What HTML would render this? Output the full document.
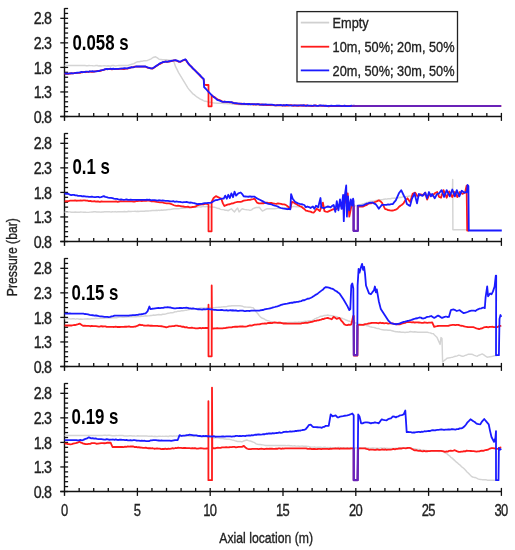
<!DOCTYPE html>
<html><head><meta charset="utf-8"><title>Pressure vs axial location</title>
<style>
html,body{margin:0;padding:0;background:#fff;}
body{width:515px;height:550px;overflow:hidden;}
svg{display:block;font-family:"Liberation Sans",sans-serif;}
</style></head><body>
<svg width="515" height="550" viewBox="0 0 515 550">
<rect width="515" height="550" fill="#fff"/>
<line x1="64.5" y1="8.2" x2="64.5" y2="120.9" stroke="#111" stroke-width="1.4"/>
<line x1="60.3" y1="116.5" x2="502" y2="116.5" stroke="#111" stroke-width="1.4"/>
<line x1="60.3" y1="116.5" x2="68.1" y2="116.5" stroke="#111" stroke-width="1.3"/>
<line x1="64.5" y1="111.59" x2="68.1" y2="111.59" stroke="#111" stroke-width="1.3"/>
<line x1="64.5" y1="106.68" x2="68.1" y2="106.68" stroke="#111" stroke-width="1.3"/>
<line x1="64.5" y1="101.77" x2="68.1" y2="101.77" stroke="#111" stroke-width="1.3"/>
<line x1="64.5" y1="96.86" x2="68.1" y2="96.86" stroke="#111" stroke-width="1.3"/>
<line x1="60.3" y1="91.95" x2="68.1" y2="91.95" stroke="#111" stroke-width="1.3"/>
<line x1="64.5" y1="87.05" x2="68.1" y2="87.05" stroke="#111" stroke-width="1.3"/>
<line x1="64.5" y1="82.14" x2="68.1" y2="82.14" stroke="#111" stroke-width="1.3"/>
<line x1="64.5" y1="77.23" x2="68.1" y2="77.23" stroke="#111" stroke-width="1.3"/>
<line x1="64.5" y1="72.32" x2="68.1" y2="72.32" stroke="#111" stroke-width="1.3"/>
<line x1="60.3" y1="67.41" x2="68.1" y2="67.41" stroke="#111" stroke-width="1.3"/>
<line x1="64.5" y1="62.5" x2="68.1" y2="62.5" stroke="#111" stroke-width="1.3"/>
<line x1="64.5" y1="57.59" x2="68.1" y2="57.59" stroke="#111" stroke-width="1.3"/>
<line x1="64.5" y1="52.68" x2="68.1" y2="52.68" stroke="#111" stroke-width="1.3"/>
<line x1="64.5" y1="47.77" x2="68.1" y2="47.77" stroke="#111" stroke-width="1.3"/>
<line x1="60.3" y1="42.86" x2="68.1" y2="42.86" stroke="#111" stroke-width="1.3"/>
<line x1="64.5" y1="37.95" x2="68.1" y2="37.95" stroke="#111" stroke-width="1.3"/>
<line x1="64.5" y1="33.05" x2="68.1" y2="33.05" stroke="#111" stroke-width="1.3"/>
<line x1="64.5" y1="28.14" x2="68.1" y2="28.14" stroke="#111" stroke-width="1.3"/>
<line x1="64.5" y1="23.23" x2="68.1" y2="23.23" stroke="#111" stroke-width="1.3"/>
<line x1="60.3" y1="18.32" x2="68.1" y2="18.32" stroke="#111" stroke-width="1.3"/>
<line x1="64.5" y1="13.41" x2="68.1" y2="13.41" stroke="#111" stroke-width="1.3"/>
<line x1="64.5" y1="8.5" x2="68.1" y2="8.5" stroke="#111" stroke-width="1.3"/>
<line x1="79.16" y1="112.9" x2="79.16" y2="116.5" stroke="#111" stroke-width="1.3"/>
<line x1="93.72" y1="112.9" x2="93.72" y2="116.5" stroke="#111" stroke-width="1.3"/>
<line x1="108.28" y1="112.9" x2="108.28" y2="116.5" stroke="#111" stroke-width="1.3"/>
<line x1="122.84" y1="112.9" x2="122.84" y2="116.5" stroke="#111" stroke-width="1.3"/>
<line x1="137.4" y1="112.9" x2="137.4" y2="120.9" stroke="#111" stroke-width="1.3"/>
<line x1="151.96" y1="112.9" x2="151.96" y2="116.5" stroke="#111" stroke-width="1.3"/>
<line x1="166.52" y1="112.9" x2="166.52" y2="116.5" stroke="#111" stroke-width="1.3"/>
<line x1="181.08" y1="112.9" x2="181.08" y2="116.5" stroke="#111" stroke-width="1.3"/>
<line x1="195.64" y1="112.9" x2="195.64" y2="116.5" stroke="#111" stroke-width="1.3"/>
<line x1="210.2" y1="112.9" x2="210.2" y2="120.9" stroke="#111" stroke-width="1.3"/>
<line x1="224.76" y1="112.9" x2="224.76" y2="116.5" stroke="#111" stroke-width="1.3"/>
<line x1="239.32" y1="112.9" x2="239.32" y2="116.5" stroke="#111" stroke-width="1.3"/>
<line x1="253.88" y1="112.9" x2="253.88" y2="116.5" stroke="#111" stroke-width="1.3"/>
<line x1="268.44" y1="112.9" x2="268.44" y2="116.5" stroke="#111" stroke-width="1.3"/>
<line x1="283" y1="112.9" x2="283" y2="120.9" stroke="#111" stroke-width="1.3"/>
<line x1="297.56" y1="112.9" x2="297.56" y2="116.5" stroke="#111" stroke-width="1.3"/>
<line x1="312.12" y1="112.9" x2="312.12" y2="116.5" stroke="#111" stroke-width="1.3"/>
<line x1="326.68" y1="112.9" x2="326.68" y2="116.5" stroke="#111" stroke-width="1.3"/>
<line x1="341.24" y1="112.9" x2="341.24" y2="116.5" stroke="#111" stroke-width="1.3"/>
<line x1="355.8" y1="112.9" x2="355.8" y2="120.9" stroke="#111" stroke-width="1.3"/>
<line x1="370.36" y1="112.9" x2="370.36" y2="116.5" stroke="#111" stroke-width="1.3"/>
<line x1="384.92" y1="112.9" x2="384.92" y2="116.5" stroke="#111" stroke-width="1.3"/>
<line x1="399.48" y1="112.9" x2="399.48" y2="116.5" stroke="#111" stroke-width="1.3"/>
<line x1="414.04" y1="112.9" x2="414.04" y2="116.5" stroke="#111" stroke-width="1.3"/>
<line x1="428.6" y1="112.9" x2="428.6" y2="120.9" stroke="#111" stroke-width="1.3"/>
<line x1="443.16" y1="112.9" x2="443.16" y2="116.5" stroke="#111" stroke-width="1.3"/>
<line x1="457.72" y1="112.9" x2="457.72" y2="116.5" stroke="#111" stroke-width="1.3"/>
<line x1="472.28" y1="112.9" x2="472.28" y2="116.5" stroke="#111" stroke-width="1.3"/>
<line x1="486.84" y1="112.9" x2="486.84" y2="116.5" stroke="#111" stroke-width="1.3"/>
<line x1="501.4" y1="112.9" x2="501.4" y2="120.9" stroke="#111" stroke-width="1.3"/>
<text transform="translate(51.2,122.6) scale(0.85,1)" font-size="16.8" text-anchor="end" font-weight="normal" fill="#222" letter-spacing="-0.9" stroke="#222" stroke-width="0.35">0.8</text>
<text transform="translate(51.2,98.05) scale(0.85,1)" font-size="16.8" text-anchor="end" font-weight="normal" fill="#222" letter-spacing="-0.9" stroke="#222" stroke-width="0.35">1.3</text>
<text transform="translate(51.2,73.51) scale(0.85,1)" font-size="16.8" text-anchor="end" font-weight="normal" fill="#222" letter-spacing="-0.9" stroke="#222" stroke-width="0.35">1.8</text>
<text transform="translate(51.2,48.96) scale(0.85,1)" font-size="16.8" text-anchor="end" font-weight="normal" fill="#222" letter-spacing="-0.9" stroke="#222" stroke-width="0.35">2.3</text>
<text transform="translate(51.2,24.42) scale(0.85,1)" font-size="16.8" text-anchor="end" font-weight="normal" fill="#222" letter-spacing="-0.9" stroke="#222" stroke-width="0.35">2.8</text>
<line x1="64.5" y1="133.2" x2="64.5" y2="245.9" stroke="#111" stroke-width="1.4"/>
<line x1="60.3" y1="241.5" x2="502" y2="241.5" stroke="#111" stroke-width="1.4"/>
<line x1="60.3" y1="241.5" x2="68.1" y2="241.5" stroke="#111" stroke-width="1.3"/>
<line x1="64.5" y1="236.59" x2="68.1" y2="236.59" stroke="#111" stroke-width="1.3"/>
<line x1="64.5" y1="231.68" x2="68.1" y2="231.68" stroke="#111" stroke-width="1.3"/>
<line x1="64.5" y1="226.77" x2="68.1" y2="226.77" stroke="#111" stroke-width="1.3"/>
<line x1="64.5" y1="221.86" x2="68.1" y2="221.86" stroke="#111" stroke-width="1.3"/>
<line x1="60.3" y1="216.95" x2="68.1" y2="216.95" stroke="#111" stroke-width="1.3"/>
<line x1="64.5" y1="212.05" x2="68.1" y2="212.05" stroke="#111" stroke-width="1.3"/>
<line x1="64.5" y1="207.14" x2="68.1" y2="207.14" stroke="#111" stroke-width="1.3"/>
<line x1="64.5" y1="202.23" x2="68.1" y2="202.23" stroke="#111" stroke-width="1.3"/>
<line x1="64.5" y1="197.32" x2="68.1" y2="197.32" stroke="#111" stroke-width="1.3"/>
<line x1="60.3" y1="192.41" x2="68.1" y2="192.41" stroke="#111" stroke-width="1.3"/>
<line x1="64.5" y1="187.5" x2="68.1" y2="187.5" stroke="#111" stroke-width="1.3"/>
<line x1="64.5" y1="182.59" x2="68.1" y2="182.59" stroke="#111" stroke-width="1.3"/>
<line x1="64.5" y1="177.68" x2="68.1" y2="177.68" stroke="#111" stroke-width="1.3"/>
<line x1="64.5" y1="172.77" x2="68.1" y2="172.77" stroke="#111" stroke-width="1.3"/>
<line x1="60.3" y1="167.86" x2="68.1" y2="167.86" stroke="#111" stroke-width="1.3"/>
<line x1="64.5" y1="162.95" x2="68.1" y2="162.95" stroke="#111" stroke-width="1.3"/>
<line x1="64.5" y1="158.05" x2="68.1" y2="158.05" stroke="#111" stroke-width="1.3"/>
<line x1="64.5" y1="153.14" x2="68.1" y2="153.14" stroke="#111" stroke-width="1.3"/>
<line x1="64.5" y1="148.23" x2="68.1" y2="148.23" stroke="#111" stroke-width="1.3"/>
<line x1="60.3" y1="143.32" x2="68.1" y2="143.32" stroke="#111" stroke-width="1.3"/>
<line x1="64.5" y1="138.41" x2="68.1" y2="138.41" stroke="#111" stroke-width="1.3"/>
<line x1="64.5" y1="133.5" x2="68.1" y2="133.5" stroke="#111" stroke-width="1.3"/>
<line x1="79.16" y1="237.9" x2="79.16" y2="241.5" stroke="#111" stroke-width="1.3"/>
<line x1="93.72" y1="237.9" x2="93.72" y2="241.5" stroke="#111" stroke-width="1.3"/>
<line x1="108.28" y1="237.9" x2="108.28" y2="241.5" stroke="#111" stroke-width="1.3"/>
<line x1="122.84" y1="237.9" x2="122.84" y2="241.5" stroke="#111" stroke-width="1.3"/>
<line x1="137.4" y1="237.9" x2="137.4" y2="245.9" stroke="#111" stroke-width="1.3"/>
<line x1="151.96" y1="237.9" x2="151.96" y2="241.5" stroke="#111" stroke-width="1.3"/>
<line x1="166.52" y1="237.9" x2="166.52" y2="241.5" stroke="#111" stroke-width="1.3"/>
<line x1="181.08" y1="237.9" x2="181.08" y2="241.5" stroke="#111" stroke-width="1.3"/>
<line x1="195.64" y1="237.9" x2="195.64" y2="241.5" stroke="#111" stroke-width="1.3"/>
<line x1="210.2" y1="237.9" x2="210.2" y2="245.9" stroke="#111" stroke-width="1.3"/>
<line x1="224.76" y1="237.9" x2="224.76" y2="241.5" stroke="#111" stroke-width="1.3"/>
<line x1="239.32" y1="237.9" x2="239.32" y2="241.5" stroke="#111" stroke-width="1.3"/>
<line x1="253.88" y1="237.9" x2="253.88" y2="241.5" stroke="#111" stroke-width="1.3"/>
<line x1="268.44" y1="237.9" x2="268.44" y2="241.5" stroke="#111" stroke-width="1.3"/>
<line x1="283" y1="237.9" x2="283" y2="245.9" stroke="#111" stroke-width="1.3"/>
<line x1="297.56" y1="237.9" x2="297.56" y2="241.5" stroke="#111" stroke-width="1.3"/>
<line x1="312.12" y1="237.9" x2="312.12" y2="241.5" stroke="#111" stroke-width="1.3"/>
<line x1="326.68" y1="237.9" x2="326.68" y2="241.5" stroke="#111" stroke-width="1.3"/>
<line x1="341.24" y1="237.9" x2="341.24" y2="241.5" stroke="#111" stroke-width="1.3"/>
<line x1="355.8" y1="237.9" x2="355.8" y2="245.9" stroke="#111" stroke-width="1.3"/>
<line x1="370.36" y1="237.9" x2="370.36" y2="241.5" stroke="#111" stroke-width="1.3"/>
<line x1="384.92" y1="237.9" x2="384.92" y2="241.5" stroke="#111" stroke-width="1.3"/>
<line x1="399.48" y1="237.9" x2="399.48" y2="241.5" stroke="#111" stroke-width="1.3"/>
<line x1="414.04" y1="237.9" x2="414.04" y2="241.5" stroke="#111" stroke-width="1.3"/>
<line x1="428.6" y1="237.9" x2="428.6" y2="245.9" stroke="#111" stroke-width="1.3"/>
<line x1="443.16" y1="237.9" x2="443.16" y2="241.5" stroke="#111" stroke-width="1.3"/>
<line x1="457.72" y1="237.9" x2="457.72" y2="241.5" stroke="#111" stroke-width="1.3"/>
<line x1="472.28" y1="237.9" x2="472.28" y2="241.5" stroke="#111" stroke-width="1.3"/>
<line x1="486.84" y1="237.9" x2="486.84" y2="241.5" stroke="#111" stroke-width="1.3"/>
<line x1="501.4" y1="237.9" x2="501.4" y2="245.9" stroke="#111" stroke-width="1.3"/>
<text transform="translate(51.2,247.6) scale(0.85,1)" font-size="16.8" text-anchor="end" font-weight="normal" fill="#222" letter-spacing="-0.9" stroke="#222" stroke-width="0.35">0.8</text>
<text transform="translate(51.2,223.05) scale(0.85,1)" font-size="16.8" text-anchor="end" font-weight="normal" fill="#222" letter-spacing="-0.9" stroke="#222" stroke-width="0.35">1.3</text>
<text transform="translate(51.2,198.51) scale(0.85,1)" font-size="16.8" text-anchor="end" font-weight="normal" fill="#222" letter-spacing="-0.9" stroke="#222" stroke-width="0.35">1.8</text>
<text transform="translate(51.2,173.96) scale(0.85,1)" font-size="16.8" text-anchor="end" font-weight="normal" fill="#222" letter-spacing="-0.9" stroke="#222" stroke-width="0.35">2.3</text>
<text transform="translate(51.2,149.42) scale(0.85,1)" font-size="16.8" text-anchor="end" font-weight="normal" fill="#222" letter-spacing="-0.9" stroke="#222" stroke-width="0.35">2.8</text>
<line x1="64.5" y1="258.2" x2="64.5" y2="370.9" stroke="#111" stroke-width="1.4"/>
<line x1="60.3" y1="366.5" x2="502" y2="366.5" stroke="#111" stroke-width="1.4"/>
<line x1="60.3" y1="366.5" x2="68.1" y2="366.5" stroke="#111" stroke-width="1.3"/>
<line x1="64.5" y1="361.59" x2="68.1" y2="361.59" stroke="#111" stroke-width="1.3"/>
<line x1="64.5" y1="356.68" x2="68.1" y2="356.68" stroke="#111" stroke-width="1.3"/>
<line x1="64.5" y1="351.77" x2="68.1" y2="351.77" stroke="#111" stroke-width="1.3"/>
<line x1="64.5" y1="346.86" x2="68.1" y2="346.86" stroke="#111" stroke-width="1.3"/>
<line x1="60.3" y1="341.95" x2="68.1" y2="341.95" stroke="#111" stroke-width="1.3"/>
<line x1="64.5" y1="337.05" x2="68.1" y2="337.05" stroke="#111" stroke-width="1.3"/>
<line x1="64.5" y1="332.14" x2="68.1" y2="332.14" stroke="#111" stroke-width="1.3"/>
<line x1="64.5" y1="327.23" x2="68.1" y2="327.23" stroke="#111" stroke-width="1.3"/>
<line x1="64.5" y1="322.32" x2="68.1" y2="322.32" stroke="#111" stroke-width="1.3"/>
<line x1="60.3" y1="317.41" x2="68.1" y2="317.41" stroke="#111" stroke-width="1.3"/>
<line x1="64.5" y1="312.5" x2="68.1" y2="312.5" stroke="#111" stroke-width="1.3"/>
<line x1="64.5" y1="307.59" x2="68.1" y2="307.59" stroke="#111" stroke-width="1.3"/>
<line x1="64.5" y1="302.68" x2="68.1" y2="302.68" stroke="#111" stroke-width="1.3"/>
<line x1="64.5" y1="297.77" x2="68.1" y2="297.77" stroke="#111" stroke-width="1.3"/>
<line x1="60.3" y1="292.86" x2="68.1" y2="292.86" stroke="#111" stroke-width="1.3"/>
<line x1="64.5" y1="287.95" x2="68.1" y2="287.95" stroke="#111" stroke-width="1.3"/>
<line x1="64.5" y1="283.05" x2="68.1" y2="283.05" stroke="#111" stroke-width="1.3"/>
<line x1="64.5" y1="278.14" x2="68.1" y2="278.14" stroke="#111" stroke-width="1.3"/>
<line x1="64.5" y1="273.23" x2="68.1" y2="273.23" stroke="#111" stroke-width="1.3"/>
<line x1="60.3" y1="268.32" x2="68.1" y2="268.32" stroke="#111" stroke-width="1.3"/>
<line x1="64.5" y1="263.41" x2="68.1" y2="263.41" stroke="#111" stroke-width="1.3"/>
<line x1="64.5" y1="258.5" x2="68.1" y2="258.5" stroke="#111" stroke-width="1.3"/>
<line x1="79.16" y1="362.9" x2="79.16" y2="366.5" stroke="#111" stroke-width="1.3"/>
<line x1="93.72" y1="362.9" x2="93.72" y2="366.5" stroke="#111" stroke-width="1.3"/>
<line x1="108.28" y1="362.9" x2="108.28" y2="366.5" stroke="#111" stroke-width="1.3"/>
<line x1="122.84" y1="362.9" x2="122.84" y2="366.5" stroke="#111" stroke-width="1.3"/>
<line x1="137.4" y1="362.9" x2="137.4" y2="370.9" stroke="#111" stroke-width="1.3"/>
<line x1="151.96" y1="362.9" x2="151.96" y2="366.5" stroke="#111" stroke-width="1.3"/>
<line x1="166.52" y1="362.9" x2="166.52" y2="366.5" stroke="#111" stroke-width="1.3"/>
<line x1="181.08" y1="362.9" x2="181.08" y2="366.5" stroke="#111" stroke-width="1.3"/>
<line x1="195.64" y1="362.9" x2="195.64" y2="366.5" stroke="#111" stroke-width="1.3"/>
<line x1="210.2" y1="362.9" x2="210.2" y2="370.9" stroke="#111" stroke-width="1.3"/>
<line x1="224.76" y1="362.9" x2="224.76" y2="366.5" stroke="#111" stroke-width="1.3"/>
<line x1="239.32" y1="362.9" x2="239.32" y2="366.5" stroke="#111" stroke-width="1.3"/>
<line x1="253.88" y1="362.9" x2="253.88" y2="366.5" stroke="#111" stroke-width="1.3"/>
<line x1="268.44" y1="362.9" x2="268.44" y2="366.5" stroke="#111" stroke-width="1.3"/>
<line x1="283" y1="362.9" x2="283" y2="370.9" stroke="#111" stroke-width="1.3"/>
<line x1="297.56" y1="362.9" x2="297.56" y2="366.5" stroke="#111" stroke-width="1.3"/>
<line x1="312.12" y1="362.9" x2="312.12" y2="366.5" stroke="#111" stroke-width="1.3"/>
<line x1="326.68" y1="362.9" x2="326.68" y2="366.5" stroke="#111" stroke-width="1.3"/>
<line x1="341.24" y1="362.9" x2="341.24" y2="366.5" stroke="#111" stroke-width="1.3"/>
<line x1="355.8" y1="362.9" x2="355.8" y2="370.9" stroke="#111" stroke-width="1.3"/>
<line x1="370.36" y1="362.9" x2="370.36" y2="366.5" stroke="#111" stroke-width="1.3"/>
<line x1="384.92" y1="362.9" x2="384.92" y2="366.5" stroke="#111" stroke-width="1.3"/>
<line x1="399.48" y1="362.9" x2="399.48" y2="366.5" stroke="#111" stroke-width="1.3"/>
<line x1="414.04" y1="362.9" x2="414.04" y2="366.5" stroke="#111" stroke-width="1.3"/>
<line x1="428.6" y1="362.9" x2="428.6" y2="370.9" stroke="#111" stroke-width="1.3"/>
<line x1="443.16" y1="362.9" x2="443.16" y2="366.5" stroke="#111" stroke-width="1.3"/>
<line x1="457.72" y1="362.9" x2="457.72" y2="366.5" stroke="#111" stroke-width="1.3"/>
<line x1="472.28" y1="362.9" x2="472.28" y2="366.5" stroke="#111" stroke-width="1.3"/>
<line x1="486.84" y1="362.9" x2="486.84" y2="366.5" stroke="#111" stroke-width="1.3"/>
<line x1="501.4" y1="362.9" x2="501.4" y2="370.9" stroke="#111" stroke-width="1.3"/>
<text transform="translate(51.2,372.6) scale(0.85,1)" font-size="16.8" text-anchor="end" font-weight="normal" fill="#222" letter-spacing="-0.9" stroke="#222" stroke-width="0.35">0.8</text>
<text transform="translate(51.2,348.05) scale(0.85,1)" font-size="16.8" text-anchor="end" font-weight="normal" fill="#222" letter-spacing="-0.9" stroke="#222" stroke-width="0.35">1.3</text>
<text transform="translate(51.2,323.51) scale(0.85,1)" font-size="16.8" text-anchor="end" font-weight="normal" fill="#222" letter-spacing="-0.9" stroke="#222" stroke-width="0.35">1.8</text>
<text transform="translate(51.2,298.96) scale(0.85,1)" font-size="16.8" text-anchor="end" font-weight="normal" fill="#222" letter-spacing="-0.9" stroke="#222" stroke-width="0.35">2.3</text>
<text transform="translate(51.2,274.42) scale(0.85,1)" font-size="16.8" text-anchor="end" font-weight="normal" fill="#222" letter-spacing="-0.9" stroke="#222" stroke-width="0.35">2.8</text>
<line x1="64.5" y1="383.2" x2="64.5" y2="495.9" stroke="#111" stroke-width="1.4"/>
<line x1="60.3" y1="491.5" x2="502" y2="491.5" stroke="#111" stroke-width="1.4"/>
<line x1="60.3" y1="491.5" x2="68.1" y2="491.5" stroke="#111" stroke-width="1.3"/>
<line x1="64.5" y1="486.59" x2="68.1" y2="486.59" stroke="#111" stroke-width="1.3"/>
<line x1="64.5" y1="481.68" x2="68.1" y2="481.68" stroke="#111" stroke-width="1.3"/>
<line x1="64.5" y1="476.77" x2="68.1" y2="476.77" stroke="#111" stroke-width="1.3"/>
<line x1="64.5" y1="471.86" x2="68.1" y2="471.86" stroke="#111" stroke-width="1.3"/>
<line x1="60.3" y1="466.95" x2="68.1" y2="466.95" stroke="#111" stroke-width="1.3"/>
<line x1="64.5" y1="462.05" x2="68.1" y2="462.05" stroke="#111" stroke-width="1.3"/>
<line x1="64.5" y1="457.14" x2="68.1" y2="457.14" stroke="#111" stroke-width="1.3"/>
<line x1="64.5" y1="452.23" x2="68.1" y2="452.23" stroke="#111" stroke-width="1.3"/>
<line x1="64.5" y1="447.32" x2="68.1" y2="447.32" stroke="#111" stroke-width="1.3"/>
<line x1="60.3" y1="442.41" x2="68.1" y2="442.41" stroke="#111" stroke-width="1.3"/>
<line x1="64.5" y1="437.5" x2="68.1" y2="437.5" stroke="#111" stroke-width="1.3"/>
<line x1="64.5" y1="432.59" x2="68.1" y2="432.59" stroke="#111" stroke-width="1.3"/>
<line x1="64.5" y1="427.68" x2="68.1" y2="427.68" stroke="#111" stroke-width="1.3"/>
<line x1="64.5" y1="422.77" x2="68.1" y2="422.77" stroke="#111" stroke-width="1.3"/>
<line x1="60.3" y1="417.86" x2="68.1" y2="417.86" stroke="#111" stroke-width="1.3"/>
<line x1="64.5" y1="412.95" x2="68.1" y2="412.95" stroke="#111" stroke-width="1.3"/>
<line x1="64.5" y1="408.05" x2="68.1" y2="408.05" stroke="#111" stroke-width="1.3"/>
<line x1="64.5" y1="403.14" x2="68.1" y2="403.14" stroke="#111" stroke-width="1.3"/>
<line x1="64.5" y1="398.23" x2="68.1" y2="398.23" stroke="#111" stroke-width="1.3"/>
<line x1="60.3" y1="393.32" x2="68.1" y2="393.32" stroke="#111" stroke-width="1.3"/>
<line x1="64.5" y1="388.41" x2="68.1" y2="388.41" stroke="#111" stroke-width="1.3"/>
<line x1="64.5" y1="383.5" x2="68.1" y2="383.5" stroke="#111" stroke-width="1.3"/>
<line x1="79.16" y1="487.9" x2="79.16" y2="491.5" stroke="#111" stroke-width="1.3"/>
<line x1="93.72" y1="487.9" x2="93.72" y2="491.5" stroke="#111" stroke-width="1.3"/>
<line x1="108.28" y1="487.9" x2="108.28" y2="491.5" stroke="#111" stroke-width="1.3"/>
<line x1="122.84" y1="487.9" x2="122.84" y2="491.5" stroke="#111" stroke-width="1.3"/>
<line x1="137.4" y1="487.9" x2="137.4" y2="495.9" stroke="#111" stroke-width="1.3"/>
<line x1="151.96" y1="487.9" x2="151.96" y2="491.5" stroke="#111" stroke-width="1.3"/>
<line x1="166.52" y1="487.9" x2="166.52" y2="491.5" stroke="#111" stroke-width="1.3"/>
<line x1="181.08" y1="487.9" x2="181.08" y2="491.5" stroke="#111" stroke-width="1.3"/>
<line x1="195.64" y1="487.9" x2="195.64" y2="491.5" stroke="#111" stroke-width="1.3"/>
<line x1="210.2" y1="487.9" x2="210.2" y2="495.9" stroke="#111" stroke-width="1.3"/>
<line x1="224.76" y1="487.9" x2="224.76" y2="491.5" stroke="#111" stroke-width="1.3"/>
<line x1="239.32" y1="487.9" x2="239.32" y2="491.5" stroke="#111" stroke-width="1.3"/>
<line x1="253.88" y1="487.9" x2="253.88" y2="491.5" stroke="#111" stroke-width="1.3"/>
<line x1="268.44" y1="487.9" x2="268.44" y2="491.5" stroke="#111" stroke-width="1.3"/>
<line x1="283" y1="487.9" x2="283" y2="495.9" stroke="#111" stroke-width="1.3"/>
<line x1="297.56" y1="487.9" x2="297.56" y2="491.5" stroke="#111" stroke-width="1.3"/>
<line x1="312.12" y1="487.9" x2="312.12" y2="491.5" stroke="#111" stroke-width="1.3"/>
<line x1="326.68" y1="487.9" x2="326.68" y2="491.5" stroke="#111" stroke-width="1.3"/>
<line x1="341.24" y1="487.9" x2="341.24" y2="491.5" stroke="#111" stroke-width="1.3"/>
<line x1="355.8" y1="487.9" x2="355.8" y2="495.9" stroke="#111" stroke-width="1.3"/>
<line x1="370.36" y1="487.9" x2="370.36" y2="491.5" stroke="#111" stroke-width="1.3"/>
<line x1="384.92" y1="487.9" x2="384.92" y2="491.5" stroke="#111" stroke-width="1.3"/>
<line x1="399.48" y1="487.9" x2="399.48" y2="491.5" stroke="#111" stroke-width="1.3"/>
<line x1="414.04" y1="487.9" x2="414.04" y2="491.5" stroke="#111" stroke-width="1.3"/>
<line x1="428.6" y1="487.9" x2="428.6" y2="495.9" stroke="#111" stroke-width="1.3"/>
<line x1="443.16" y1="487.9" x2="443.16" y2="491.5" stroke="#111" stroke-width="1.3"/>
<line x1="457.72" y1="487.9" x2="457.72" y2="491.5" stroke="#111" stroke-width="1.3"/>
<line x1="472.28" y1="487.9" x2="472.28" y2="491.5" stroke="#111" stroke-width="1.3"/>
<line x1="486.84" y1="487.9" x2="486.84" y2="491.5" stroke="#111" stroke-width="1.3"/>
<line x1="501.4" y1="487.9" x2="501.4" y2="495.9" stroke="#111" stroke-width="1.3"/>
<text transform="translate(51.2,497.6) scale(0.85,1)" font-size="16.8" text-anchor="end" font-weight="normal" fill="#222" letter-spacing="-0.9" stroke="#222" stroke-width="0.35">0.8</text>
<text transform="translate(51.2,473.05) scale(0.85,1)" font-size="16.8" text-anchor="end" font-weight="normal" fill="#222" letter-spacing="-0.9" stroke="#222" stroke-width="0.35">1.3</text>
<text transform="translate(51.2,448.51) scale(0.85,1)" font-size="16.8" text-anchor="end" font-weight="normal" fill="#222" letter-spacing="-0.9" stroke="#222" stroke-width="0.35">1.8</text>
<text transform="translate(51.2,423.96) scale(0.85,1)" font-size="16.8" text-anchor="end" font-weight="normal" fill="#222" letter-spacing="-0.9" stroke="#222" stroke-width="0.35">2.3</text>
<text transform="translate(51.2,399.42) scale(0.85,1)" font-size="16.8" text-anchor="end" font-weight="normal" fill="#222" letter-spacing="-0.9" stroke="#222" stroke-width="0.35">2.8</text>
<text transform="translate(64.2,515.8) scale(0.79,1)" font-size="16.4" text-anchor="middle" font-weight="normal" fill="#222" letter-spacing="-0.9" stroke="#222" stroke-width="0.35">0</text>
<text transform="translate(137,515.8) scale(0.79,1)" font-size="16.4" text-anchor="middle" font-weight="normal" fill="#222" letter-spacing="-0.9" stroke="#222" stroke-width="0.35">5</text>
<text transform="translate(209.8,515.8) scale(0.79,1)" font-size="16.4" text-anchor="middle" font-weight="normal" fill="#222" letter-spacing="-0.9" stroke="#222" stroke-width="0.35">10</text>
<text transform="translate(282.6,515.8) scale(0.79,1)" font-size="16.4" text-anchor="middle" font-weight="normal" fill="#222" letter-spacing="-0.9" stroke="#222" stroke-width="0.35">15</text>
<text transform="translate(355.4,515.8) scale(0.79,1)" font-size="16.4" text-anchor="middle" font-weight="normal" fill="#222" letter-spacing="-0.9" stroke="#222" stroke-width="0.35">20</text>
<text transform="translate(428.2,515.8) scale(0.79,1)" font-size="16.4" text-anchor="middle" font-weight="normal" fill="#222" letter-spacing="-0.9" stroke="#222" stroke-width="0.35">25</text>
<text transform="translate(501,515.8) scale(0.79,1)" font-size="16.4" text-anchor="middle" font-weight="normal" fill="#222" letter-spacing="-0.9" stroke="#222" stroke-width="0.35">30</text>
<text transform="translate(219.3,543) scale(0.815,1)" font-size="15.0" text-anchor="start" font-weight="normal" fill="#222" stroke="#222" stroke-width="0.35">Axial location (m)</text>
<text transform="translate(16.9,296.2) rotate(-90) scale(0.815,1)" font-size="15.0" text-anchor="start" font-weight="normal" fill="#222" stroke="#222" stroke-width="0.35">Pressure (bar)</text>
<polyline points="64.6,65.5 83.4,65.5 84.79,65.35 86.17,65.73 87.56,65.72 88.94,65.49 90.33,65.64 91.71,65.65 93.1,65.78 94.49,65.87 95.87,65.55 97.26,65.55 98.64,65.98 100.03,65.81 101.41,66 102.8,65.9 104.13,65.63 105.45,65.83 106.78,65.95 108.11,65.68 109.43,66.02 110.76,65.97 112.08,65.52 113.41,65.49 114.74,65.73 116.06,65.91 117.39,65.61 118.72,65.51 120.04,65.59 121.37,65.37 122.69,65.45 124.02,65.53 125.35,65.54 126.67,65.39 128,65.5 129.47,64.89 130.95,64.41 132.43,64.05 133.9,63.6 135.2,62.86 136.5,62.09 137.8,61.7 139.36,61.67 140.92,61.33 142.48,61.17 144.04,60.74 145.6,60.7 147.5,60.45 149.4,59.7 151.2,58.78 153,57.5 155.6,56.8 157.35,57.86 159.1,59.3 160.85,59.47 162.6,59.8 164.4,59.81 166.2,59.6 167.62,59.93 169.05,60.27 170.47,60.24 171.9,60.5 174,62 175.5,66.4 178.6,72.6 183.3,80.4 188,88.1 189.53,90.1 191.07,91.85 192.6,93.6 194.15,94.65 195.7,95.94 197.25,97.24 198.8,98.2 200.35,99.15 201.9,99.75 203.45,100.57 205,101.3 206.3,101.33 207.6,101.7 208.9,102.25 210.2,102.32 211.5,102.47 212.8,102.9 214.13,103 215.46,103.14 216.79,103.2 218.11,103.12 219.44,103.23 220.77,103.33 222.1,103.4 223.48,103.62 224.85,103.58 226.23,103.6 227.61,103.73 228.98,103.59 230.36,103.68 231.74,104.09 233.12,104.32 234.49,104.21 235.87,104.19 237.25,104.17 238.62,104.42 240,104.5 241.33,104.78 242.67,104.71 244,104.63 245.33,104.83 246.67,104.55 248,104.73 249.33,104.98 250.67,104.83 252,104.81 253.33,104.75 254.67,104.93 256,105.17 257.33,104.73 258.67,105.16 260,105.21 261.33,105.28 262.67,105.24 264,105.31 265.33,105.21 266.67,105.26 268,105.23 269.33,105.08 270.67,105.53 272,105.41 273.33,105.27 274.67,105.46 276,105.48 277.33,105.46 278.67,105.49 280,105.6 281.32,105.63 282.63,105.68 283.95,105.69 285.26,105.62 286.58,105.42 287.89,105.53 289.21,105.51 290.53,105.73 291.84,105.88 293.16,105.85 294.47,105.86 295.79,105.88 297.11,105.61 298.42,105.92 299.74,105.84 301.05,105.56 302.37,105.54 303.68,105.55 305,105.93 306.32,105.69 307.63,105.63 308.95,105.89 310.26,105.76 311.58,105.64 312.89,105.69 314.21,105.89 315.53,105.72 316.84,105.78 318.16,106.01 319.47,105.89 320.79,105.84 322.11,105.92 323.42,105.71 324.74,105.9 326.05,105.93 327.37,105.82 328.68,105.79 330,106 501.2,106" fill="none" stroke="#d4d4d4" stroke-width="1.45" stroke-linejoin="round" stroke-linecap="butt"/>
<polyline points="64.6,73.9 65.99,73.77 67.38,73.74 68.76,73.85 70.15,73.48 71.54,73.4 72.92,73.35 74.31,73.01 75.7,73.1 77.15,72.96 78.6,72.88 80.05,72.83 81.5,72.26 82.95,72.23 84.4,71.95 85.85,72.24 87.3,71.9 88.6,71.94 89.9,71.47 91.2,71.96 92.5,71.87 93.8,71.6 95.1,71.5 96.4,71.15 97.7,70.99 99,71.2 100.54,70.82 102.08,70.14 103.62,69.81 105.16,69.45 106.7,69.2 108,68.9 109.3,69.13 110.6,69.1 111.9,69.32 113.2,69.1 114.5,69.15 115.8,69.04 117.1,69.12 118.4,69 119.94,68.89 121.48,68.71 123.02,69.06 124.56,68.98 126.1,68.6 127.49,68.53 128.87,68.18 130.26,67.67 131.64,67.35 133.03,67.12 134.41,66.71 135.8,66.7 145.6,66.7 147.5,67.56 149.4,68.1 150.85,68.29 152.3,68.6 153.8,67.86 155.3,66.7 157.2,65.38 159.1,64.2 160.4,63.81 161.7,63.08 163,62.2 164.32,61.73 165.63,61.69 166.95,61.95 168.27,61.52 169.58,61.65 170.9,61.2 172.43,60.87 173.97,60.41 175.5,60.4 177.07,60.98 178.63,61.57 180.2,61.9 181.55,61.19 182.9,60.5 184.25,60.07 185.6,59.6 186.9,61.68 188.2,63.35 189.5,65 191.05,66.37 192.6,68.2 194.17,69.58 195.73,71.03 197.3,72.8 198.83,74.1 200.37,76.11 201.9,77.5 203.7,79.5 204.3,84.5 205.8,85 208.5,85 208.5,106.3 211.6,106.3 211.6,95.2 212.8,96.3 214.37,97.07 215.93,98.27 217.5,99.2 219.03,99.94 220.57,100.55 222.1,101.5 223.4,101.77 224.7,101.55 226,101.99 227.3,101.8 228.6,102.12 229.9,102.3 231.44,102.39 232.98,102.68 234.52,103.36 236.06,103.52 237.6,103.6 238.91,103.55 240.22,103.96 241.53,103.63 242.84,103.8 244.16,104.15 245.47,104.09 246.78,103.83 248.09,104.43 249.4,104.2 250.72,104.08 252.05,104.15 253.37,104.51 254.69,104.3 256.01,104.33 257.34,104.24 258.66,104.3 259.98,104.65 261.3,104.5 262.63,104.76 263.95,104.67 265.27,104.77 266.6,105.13 267.92,104.89 269.24,104.99 270.56,105.22 271.89,104.86 273.21,104.89 274.53,105.4 275.85,105.39 277.18,105.1 278.5,105.3 279.82,105.13 281.14,105.48 282.46,105.62 283.78,105.19 285.1,105.66 286.42,105.64 287.74,105.49 289.06,105.4 290.38,105.22 291.71,105.2 293.03,105.78 294.35,105.36 295.67,105.66 296.99,105.41 298.31,105.76 299.63,105.65 300.95,105.48 302.27,105.43 303.59,105.77 304.91,105.4 306.23,105.51 307.55,105.73 308.87,105.92 310.19,105.8 311.51,105.62 312.83,106.02 314.15,105.61 315.47,105.51 316.79,105.68 318.12,105.81 319.44,105.59 320.76,105.68 322.08,105.81 323.4,105.95 324.72,105.71 326.04,105.86 327.36,106.2 328.68,106.27 330,106 501.2,106" fill="none" stroke="#ff1a1a" stroke-width="1.8" stroke-linejoin="round" stroke-linecap="butt"/>
<polyline points="64.6,73.7 65.99,73.4 67.38,73.61 68.76,73.48 70.15,73.29 71.54,73.03 72.92,73.28 74.31,73.18 75.7,72.9 77.15,72.76 78.6,72.6 80.05,72.29 81.5,72 82.95,72.07 84.4,72.05 85.85,71.59 87.3,71.7 88.6,71.8 89.9,71.38 91.2,71.31 92.5,71.11 93.8,71.61 95.1,71.38 96.4,71.38 97.7,71.15 99,71 100.54,70.32 102.08,70.1 103.62,69.8 105.16,69.17 106.7,69 108,69.25 109.3,68.88 110.6,68.73 111.9,69.1 113.2,68.66 114.5,69.12 115.8,68.82 117.1,68.85 118.4,68.8 119.94,68.63 121.48,68.63 123.02,68.37 124.56,68.2 126.1,68.4 127.49,68.35 128.87,67.7 130.26,67.75 131.64,67.14 133.03,67.32 134.41,67.01 135.8,66.5 145.6,66.5 147.5,67.35 149.4,67.9 150.85,68.31 152.3,68.4 153.8,67.5 155.3,66.5 157.2,65.39 159.1,64 160.4,63.11 161.7,62.65 163,62 164.32,62.03 165.63,61.49 166.95,61.75 168.27,61.57 169.58,61.11 170.9,61 172.43,60.65 173.97,60.44 175.5,60.2 177.07,60.63 178.63,61.5 180.2,61.7 181.55,61.06 182.9,60.27 184.25,59.73 185.6,59.4 186.9,61.33 188.2,63.3 189.5,64.8 191.05,66.4 192.6,68 194.17,69.53 195.73,71.1 197.3,72.6 198.83,74.32 200.37,75.57 201.9,77.3 203.7,79 204.1,87.1 206,89 208.5,91.8 209.83,93.23 211.17,94.57 212.5,95.9 214.07,97.31 215.63,98.38 217.2,99.9 218.77,100.27 220.33,100.94 221.9,101.6 223.23,101.94 224.57,101.67 225.9,101.91 227.23,101.82 228.57,101.78 229.9,102.1 231.44,102.1 232.98,102.81 234.52,103.05 236.06,103.06 237.6,103.4 238.91,103.58 240.22,103.64 241.53,103.84 242.84,103.94 244.16,103.68 245.47,104.09 246.78,104.14 248.09,103.99 249.4,104 250.72,104.28 252.05,104.09 253.37,104.08 254.69,104.05 256.01,104.48 257.34,104.1 258.66,104.09 259.98,104.58 261.3,104.61 262.63,104.49 263.95,104.75 265.27,104.33 266.6,104.5 267.92,104.57 269.24,104.7 270.56,104.6 271.89,104.59 273.21,104.8 274.53,105.19 275.85,105.29 277.18,105.2 278.5,105.1 279.82,105.11 281.14,104.99 282.46,105.44 283.78,105.2 285.1,105.34 286.42,104.94 287.74,105.07 289.06,105.47 290.38,105.46 291.71,105.53 293.03,105.39 294.35,105.3 295.67,105.42 296.99,105.6 298.31,105.29 299.63,105.45 300.95,105.31 302.27,105.63 303.59,105.2 304.91,105.62 306.23,105.8 307.55,105.27 308.87,105.63 310.19,105.68 311.51,105.82 312.83,105.68 314.15,105.51 315.47,105.62 316.79,105.97 318.12,105.96 319.44,105.52 320.76,105.51 322.08,105.53 323.4,105.51 324.72,105.79 326.04,105.62 327.36,106.08 328.68,105.97 330,105.9 331.33,105.68 332.67,105.93 334,105.81 335.33,105.91 336.67,105.75 338,105.72 339.33,105.74 340.67,105.86 342,106.06 343.33,105.97 344.67,105.67 346,106.08 347.33,106.18 348.67,106.12 350,106.14 351.33,105.67 352.67,105.95 354,105.71 355.33,106.14 356.67,105.79 358,106.11 359.33,105.84 360.67,106.11 362,106" fill="none" stroke="#1a1aff" stroke-width="1.8" stroke-linejoin="round" stroke-linecap="butt"/>
<polyline points="64.6,212 65.94,212.24 67.29,212.25 68.63,211.82 69.97,211.85 71.31,212.24 72.66,212.2 74,212.18 75.34,212.02 76.69,212.18 78.03,212.2 79.37,212.2 80.71,212 82.06,212.15 83.4,212.2 84.72,212.13 86.05,212.28 87.37,212.39 88.69,212.35 90.01,212.13 91.34,212.06 92.66,211.96 93.98,211.82 95.3,211.8 96.63,212 97.95,211.91 99.27,211.92 100.6,212.16 101.92,211.96 103.24,211.96 104.56,211.78 105.89,211.65 107.21,211.79 108.53,211.67 109.85,211.84 111.18,212.07 112.5,211.8 113.83,211.86 115.15,211.59 116.48,211.91 117.81,211.84 119.14,211.78 120.46,211.84 121.79,211.74 123.12,211.73 124.45,211.48 125.77,211.77 127.1,211.73 128.43,211.3 129.75,211.57 131.08,211.53 132.41,211.37 133.74,211.38 135.06,211.33 136.39,211.52 137.72,211.28 139.05,211.42 140.37,211.15 141.7,211.2 143.01,211.32 144.32,211.26 145.64,210.97 146.95,210.95 148.26,211.06 149.57,210.89 150.88,210.7 152.19,210.5 153.51,210.48 154.82,210.59 156.13,210.26 157.44,210.56 158.75,210.17 160.06,210.42 161.38,210.05 162.69,210.3 164,210 165.44,209.95 166.88,209.7 168.31,209.56 169.75,209.48 171.19,209.29 172.62,209.01 174.06,208.8 175.5,208.8 176.92,208.67 178.34,208.74 179.75,208.45 181.17,208.04 182.59,208.28 184.01,208.09 185.43,208.05 186.85,207.55 188.26,207.7 189.68,207.22 191.1,207.3 192.51,207.3 193.92,207.04 195.33,206.95 196.74,207.2 198.15,206.74 199.55,206.87 200.96,206.97 202.37,206.59 203.78,206.5 205.19,206.76 206.6,206.5 208.14,206.62 209.68,206.93 211.22,206.75 212.76,207.07 214.3,207.3 215.86,207.6 217.42,208.31 218.98,208.47 220.54,209.37 222.1,209.6 223.65,209.64 225.2,210.26 226.75,210.19 228.3,210.7 229.85,209.63 231.4,208.8 232.95,210.51 234.5,211.9 236.05,209.78 237.6,208 239.1,211.9 240.65,210.19 242.2,208.8 243.75,209.3 245.3,209.6 246.87,209.81 248.43,209.9 250,210.4 251.53,209.85 253.07,208.63 254.6,208 256.17,207.53 257.73,207.46 259.3,207.3 260.85,209.26 262.4,211.1 263.97,210.45 265.53,209.37 267.1,208.8 274.8,208.8 276.1,208.59 277.4,208.3 278.7,208.37 280,208.4 281.3,208.25 282.6,208 284.15,208.03 285.7,207.78 287.25,207.66 288.8,207.3 290.35,207.2 291.9,206.89 293.45,206.56 295,206.5 296.55,206.78 298.1,206.81 299.65,206.9 301.2,207.3 302.54,207.25 303.89,207.44 305.23,207.05 306.57,207.26 307.91,207.14 309.26,207.18 310.6,206.97 311.94,207.36 313.29,206.99 314.63,207.14 315.97,207.02 317.31,206.8 318.66,207.05 320,207 321.33,206.75 322.67,206.65 324,206.57 325.33,206.56 326.67,206.46 328,206.67 329.33,206.54 330.67,206.71 332,206.62 333.33,206.58 334.67,206.13 336,206.17 337.33,206.01 338.67,206.11 340,206 341.37,206.04 342.74,206.1 344.11,206.04 345.48,205.79 346.85,205.85 348.22,205.87 349.58,205.59 350.95,205.58 352.32,205.75 353.69,205.57 355.06,205.86 356.43,205.59 357.8,205.7 359.12,205.04 360.44,204.62 361.76,204.19 363.08,203.72 364.4,203.41 365.72,202.92 367.04,202.38 368.36,202.09 369.68,201.42 371,201.1 372.31,201.13 373.62,200.98 374.94,200.69 376.25,200.37 377.56,200.23 378.88,200.09 380.19,199.65 381.5,199.66 382.81,199.54 384.12,199.19 385.44,198.97 386.75,199.15 388.06,198.76 389.38,198.66 390.69,198.69 392,198.3 393.32,198.28 394.65,198.04 395.98,198.32 397.3,198 398.63,197.71 399.96,197.3 401.29,197.41 402.61,196.89 403.94,196.76 405.27,196.8 406.6,196.4 407.98,196.4 409.35,195.99 410.73,196.13 412.11,196.03 413.48,195.98 414.86,195.76 416.24,195.87 417.61,195.53 418.99,195.55 420.36,195.51 421.74,195.71 423.12,195.2 424.49,195.46 425.87,195.09 427.25,195.2 428.62,195.03 430,195 431.32,194.92 432.64,195.01 433.95,194.77 435.27,194.58 436.59,194.52 437.91,194.44 439.22,194.76 440.54,194.6 441.86,194.7 443.18,194.51 444.49,194.12 445.81,194.37 447.13,194.37 448.45,194.29 449.76,194.12 451.08,193.99 452.4,194 452.7,179.5 452.9,229.8 467.9,229.8" fill="none" stroke="#d4d4d4" stroke-width="1.45" stroke-linejoin="round" stroke-linecap="butt"/>
<polyline points="64.6,201.4 65.9,201.27 67.2,201.27 68.5,201.16 69.8,200.73 71.1,200.54 72.4,200.64 73.7,200.6 75.09,200.44 76.47,200.73 77.86,200.63 79.24,200.55 80.63,200.49 82.01,200.53 83.4,200.4 84.79,200.33 86.17,200.65 87.56,200.63 88.94,201.22 90.33,200.85 91.71,201.45 93.1,201.4 94.49,201.19 95.87,201.6 97.26,201.43 98.64,201.51 100.03,201.82 101.41,201.37 102.8,201.7 114.5,201.7 116.06,201.38 117.62,201.83 119.18,201.53 120.74,201.21 122.3,201.4 132,201.4 133.39,201.64 134.77,201.55 136.16,201 137.54,201.13 138.93,200.9 140.31,200.94 141.7,201 143.15,200.97 144.6,200.6 146.05,200.82 147.5,200.6 148.8,200.51 150.1,200.77 151.4,201.34 152.7,201.27 154,201.47 155.3,201.7 156.87,201.96 158.43,202.09 160,202.3 161.33,202.39 162.66,202.33 163.99,202.91 165.31,203.21 166.64,203.37 167.97,203.34 169.3,203.4 170.85,203.89 172.4,204.47 173.95,205.24 175.5,205.7 176.8,205.94 178.1,205.73 179.4,205.94 180.7,206.15 182,206.37 183.3,206.5 184.86,206.85 186.42,206.82 187.98,206.7 189.54,207.33 191.1,207.3 192.63,206.99 194.17,206.78 195.7,206.5 197.25,205.53 198.8,204.9 200.35,204.61 201.9,204.33 203.45,204.31 205,203.9 206.75,203.96 208.5,204.5 208.5,231.3 211.6,231.3 211.6,201.8 213.6,198 215.9,196.1 217.45,196.88 219,197.6 221.3,198.7 222.9,203.4 224.4,206 226.8,204.9 228.35,204.33 229.9,204.27 231.45,203.5 233,203.4 234.53,202.73 236.07,202.24 237.6,201.8 240.7,201.8 242.23,201.38 243.77,200.53 245.3,200.3 246.87,200.11 248.43,199.79 250,199.8 251.53,199.3 253.07,199.05 254.6,198.7 257,202.6 258.9,203.28 260.8,203.4 262.38,203.19 263.95,203.27 265.53,202.6 267.1,202.6 268.65,203.05 270.2,202.92 271.75,203.01 273.3,203.4 274.84,203.65 276.38,203.85 277.92,203.4 279.46,203.66 281,203.9 282.57,204.4 284.13,204.47 285.7,204.9 287.23,206.04 288.77,207.21 290.3,208.8 291.9,201.8 293.45,202.32 295,203.4 296.55,204.25 298.1,205.24 299.65,206.02 301.2,206.5 302.77,207.9 304.33,209.01 305.9,210.7 307.43,210.89 308.97,211.47 310.5,211.6 312.05,212.35 313.6,212.7 315.15,210.83 316.7,208.8 318.25,209.79 319.8,211.1 322.9,202.6 324.4,211.1 325.95,211.52 327.5,211.9 329.07,211.12 330.63,210.44 332.2,209.6 333.73,209.19 335.27,209.33 336.8,208.8 338.4,206.74 340,204.2 341.55,206.3 343.1,208.8 347.7,193.3 349.3,216.6 352.4,201.1 353.6,205 353.6,230.8 357.8,230.8 357.8,206.5 363.2,206.5 364.77,205.6 366.35,205.17 367.93,204.04 369.5,203.4 371.03,203.3 372.57,202.68 374.1,202.3 375.67,201.75 377.23,201.09 378.8,200.3 380.35,201.28 381.9,202.6 385,208.8 386.55,209.32 388.1,210.1 389.6,210.25 391.1,210.7 392.65,210.51 394.2,210.1 395.75,209.57 397.3,208.8 398.85,207.03 400.4,205.7 401.95,204.78 403.5,203.4 405,200.8 407.5,198.3 408.8,200.15 410.1,202.1 412.6,193.9 415.1,192.6 417.6,196.4 420.2,194.5 421.75,194.69 423.3,195.2 425.2,192.6 427.1,199.6 429.6,193.9 432.1,195.8 434.7,193.3 437.2,192 439.1,197 441,197.7 443.5,190.1 446.7,197.7 449.2,191.4 452.3,197 454.9,192 457.4,197 459.9,192 462.4,193.9 463.7,193.21 465,192.6 466.6,185.7 467.2,230.5 469,230.5" fill="none" stroke="#ff1a1a" stroke-width="1.8" stroke-linejoin="round" stroke-linecap="butt"/>
<polyline points="64.6,193.2 65.9,193.82 67.2,193.68 68.5,193.96 69.8,194.6 71.19,195.08 72.57,194.78 73.96,194.93 75.34,195.43 76.73,195.44 78.11,195.95 79.5,195.9 80.86,195.84 82.22,196.38 83.58,196.09 84.94,196.36 86.3,196.66 87.66,196.61 89.02,196.85 90.38,196.82 91.74,196.53 93.1,196.9 94.4,197.16 95.7,197.02 97,196.89 98.3,196.85 99.6,197.28 100.9,197.1 102.35,196.65 103.8,196.1 105.25,196.86 106.7,197.1 108.15,197.51 109.6,197.88 111.05,197.89 112.5,198.1 113.97,198.54 115.45,198.82 116.93,198.93 118.4,199.4 119.76,199.71 121.12,199.37 122.48,199.69 123.84,199.83 125.2,199.69 126.56,199.43 127.92,199.88 129.28,199.82 130.64,199.57 132,199.8 145.6,199.8 146.91,199.59 148.23,199.93 149.54,199.69 150.86,200.28 152.17,200.09 153.49,200.15 154.8,200.15 156.11,200.35 157.43,200.56 158.74,200.26 160.06,200.35 161.37,200.54 162.69,200.42 164,200.6 165.32,200.78 166.65,200.88 167.98,200.94 169.3,201.1 170.63,201.3 171.96,201.32 173.29,201.15 174.61,201.8 175.94,201.51 177.27,201.66 178.6,201.8 179.94,201.81 181.29,202.2 182.63,202.29 183.97,202.09 185.31,202.1 186.66,201.99 188,202.3 189.55,202.74 191.1,202.5 192.65,202.93 194.2,203.1 195.75,203.56 197.3,204.2 198.83,204 200.37,203.91 201.9,203.9 203.47,203.45 205.03,203.09 206.6,203.1 208.13,202.95 209.67,202.94 211.2,202.6 212.75,201.74 214.3,200.7 215.87,200.12 217.43,200.02 219,199.5 220.55,198.83 222.1,198.7 223.7,198.7 225.2,195.6 226.8,198.7 228.3,194.8 229.9,198 231.4,193.3 233,197.2 234.5,191.7 236.1,195.6 238.3,193.3 240.7,192.5 242.2,194.1 243.8,196.4 245.35,196.5 246.9,196.7 248.45,196.75 250,196.4 251.53,196.75 253.07,196.58 254.6,196.7 256.15,197.91 257.7,198.7 259.27,199.5 260.83,200.31 262.4,201.1 263.97,201.92 265.53,202.93 267.1,203.4 268.63,203.91 270.17,204.12 271.7,204.5 273.27,205.14 274.83,205.59 276.4,206 277.93,206.58 279.47,207.5 281,208 282.57,208.46 284.13,208.6 285.7,208.8 287.23,209.23 288.77,208.84 290.3,209.3 291.1,194.1 292.7,198.7 295,201.8 296.55,202.6 298.1,203.4 299.65,203.88 301.2,204.2 302.75,204.5 304.3,205 305.9,207.3 307.4,206.5 308.95,207.05 310.5,208 312.9,206.5 314.4,208.8 316,205.7 318.2,207.3 320.5,198 321.3,207.3 322.85,207.77 324.4,208 325.95,207.21 327.5,206.5 329.05,206.76 330.6,207.3 332.15,205.83 333.7,204.9 335.3,211.9 336.8,201.1 338.4,210.4 340,199.5 341.5,208.8 343.1,194.8 343.8,221.2 344.9,194.8 346.2,185.5 346.9,216.6 348,196.4 349.3,210.4 350.8,199.5 352.1,205.7 353.1,198.7 353.6,201.1 353.6,230.8 357.8,230.8 357.8,205.7 361.7,205.7 363.25,205.41 364.8,204.46 366.35,203.75 367.9,203.4 369.47,202.96 371.03,202.72 372.6,202.6 374.15,203.62 375.7,204.2 377.25,206.31 378.8,208.8 380.35,206.72 381.9,204.9 386.5,204.9 388.05,204.48 389.6,204.53 391.15,204.2 392.7,204.2 394.25,202.16 395.8,200.3 398.9,193.3 401.2,190.2 404,196 405,197.7 406.9,204 408.5,205.09 410.1,205.9 411.9,198.9 414.5,193.3 417,203.4 418.9,193.9 420.8,195.11 422.7,195.8 425.2,192.6 427.1,198.3 429,192 430.9,196.4 432.1,193.9 434.7,198.3 437.2,193.9 439.1,193.3 441.6,190.1 444.1,197 446.7,190.1 449.8,196.4 452.3,189.5 454.9,196.4 456.8,190.1 459.3,196.4 461.8,190.7 464.3,192.6 466.9,192 467.6,185 468.4,186 468.8,230.5 501.8,230.5" fill="none" stroke="#1a1aff" stroke-width="1.8" stroke-linejoin="round" stroke-linecap="butt"/>
<polyline points="64.6,318.7 65.94,318.6 67.29,318.78 68.63,318.72 69.97,318.87 71.31,318.91 72.66,318.65 74,318.66 75.34,319.1 76.69,318.84 78.03,318.85 79.37,319.26 80.71,319.03 82.06,319.24 83.4,319.1 84.79,319.02 86.17,319.04 87.56,318.73 88.94,318.91 90.33,318.96 91.71,318.73 93.1,318.77 94.49,318.67 95.87,318.3 97.26,318.59 98.64,318.44 100.03,318.23 101.41,318.03 102.8,318.2 104.1,318.32 105.4,318.05 106.7,318.11 108,318.12 109.3,317.97 110.6,318.01 111.9,317.68 113.2,317.82 114.5,317.57 115.8,317.75 117.1,317.66 118.4,317.2 119.7,317.15 121,317.13 122.3,317.2 123.69,317.36 125.07,317.03 126.46,317.05 127.84,316.81 129.23,316.85 130.61,316.71 132,316.63 133.39,316.67 134.77,316.6 136.16,316.69 137.54,316.51 138.93,316.56 140.31,316.45 141.7,316.2 143.01,316.33 144.32,316.06 145.64,315.7 146.95,315.93 148.26,315.87 149.57,315.73 150.88,315.45 152.19,315.41 153.51,315.05 154.82,315.25 156.13,315.01 157.44,314.75 158.75,314.53 160.06,314.81 161.38,314.77 162.69,314.21 164,314.3 165.35,314.15 166.7,313.66 168.05,313.23 169.4,313.1 170.74,312.74 172.09,312.72 173.43,312.51 174.77,311.84 176.11,311.87 177.46,311.33 178.8,311.3 180.13,311.18 181.46,310.76 182.79,310.8 184.11,310.63 185.44,310.16 186.77,310.18 188.1,309.7 189.44,309.42 190.79,309.12 192.13,309.19 193.47,308.72 194.81,308.62 196.16,308.54 197.5,308.4 198.84,308.37 200.19,308.06 201.53,307.91 202.87,308.24 204.21,307.88 205.56,308.12 206.9,307.8 213.1,307.8 214.44,307.87 215.79,307.48 217.13,307.39 218.47,307.3 219.81,307.23 221.16,307.08 222.5,306.9 223.84,306.77 225.19,306.65 226.53,306.65 227.87,306.27 229.21,306.08 230.56,306.07 231.9,305.8 240,305.8 241.32,305.97 242.65,306.3 243.98,306.94 245.3,307 246.86,307.13 248.42,307.26 249.98,307.12 251.54,307.44 253.1,307.6 254.65,309.79 256.2,311.9 257.73,313.49 259.27,315.62 260.8,317.4 262.38,318.24 263.95,318.73 265.53,319.79 267.1,320.5 268.64,320.88 270.18,321.39 271.72,321.63 273.26,322.2 274.8,322.5 276.1,322.67 277.4,322.36 278.7,322.43 280,322.79 281.3,322.98 282.6,322.8 283.94,322.63 285.28,322.69 286.62,322.71 287.95,322.53 289.29,322.5 290.63,322.43 291.97,322.41 293.31,322.48 294.65,322.28 295.98,322.28 297.32,322.43 298.66,322.01 300,322.2 301.33,322.05 302.67,321.94 304,321.54 305.33,321.31 306.67,321.41 308,320.94 309.33,320.72 310.67,320.66 312,320.5 313.32,319.93 314.63,318.97 315.95,318.41 317.27,317.75 318.58,317.33 319.9,316.5 321.2,316.22 322.5,316.18 323.8,315.58 325.1,315.42 326.4,315.33 327.7,315 329.02,315.44 330.33,315.48 331.65,315.61 332.97,315.81 334.28,316.26 335.6,316.5 337.16,316.83 338.72,317.61 340.28,318.11 341.84,318.26 343.4,318.9 344.72,319.29 346.03,320.05 347.35,320.47 348.67,321.05 349.98,321.32 351.3,321.9 352.62,322.03 353.93,322.43 355.25,323 356.57,323.05 357.88,323.41 359.2,323.8 360.5,324.09 361.8,324.43 363.1,324.75 364.4,325.34 365.7,325.29 367,325.8 368.32,325.87 369.63,326.65 370.95,326.94 372.27,327.31 373.58,327.35 374.9,327.7 376.2,328.26 377.5,328.58 378.8,328.56 380.1,329.16 381.4,329.54 382.7,329.7 384.03,329.92 385.36,330 386.69,330.02 388.01,330.19 389.34,330.28 390.67,330.34 392,330.7 393.95,331.24 395.9,331.7 397.2,331.69 398.5,332.06 399.8,331.77 401.1,332.3 402.4,332.3 403.7,332.3 405.02,332.41 406.33,332.3 407.65,332.2 408.97,331.94 410.28,331.56 411.6,331.7 413.16,331.94 414.72,331.78 416.28,331.96 417.84,332.26 419.4,332.3 427.3,332.3 428.77,332.64 430.25,332.91 431.73,333.49 433.2,333.6 434.5,334.99 435.8,336.19 437.1,337.6 440.1,344.4 441,337.6 442,338.5 442.6,362.1 444.03,360.68 445.47,359.68 446.9,358.2 448.38,357.94 449.85,357.84 451.32,357.38 452.8,357.2 454.27,356.55 455.75,356.22 457.23,355.86 458.7,355.2 460.03,355.37 461.37,356.01 462.7,356.2 464.02,355.94 465.35,355.4 466.68,354.94 468,354.3 471.4,354.3 472.88,354.53 474.35,355.31 475.82,355.91 477.3,356.2 478.93,355.21 480.57,354.55 482.2,353.9 483.87,354.88 485.53,356.11 487.2,357.2 488.65,356.91 490.1,356.69 491.55,356.59 493,356.2 494.33,355.82 495.67,355.71 497,355.8" fill="none" stroke="#d4d4d4" stroke-width="1.45" stroke-linejoin="round" stroke-linecap="butt"/>
<polyline points="64.6,325.5 71.8,325.5 73.4,325.06 75,325.01 76.6,324.6 78.25,324.21 79.9,323.6 81.65,324.96 83.4,325.9 84.79,325.75 86.17,325.82 87.56,325.82 88.94,325.91 90.33,326.25 91.71,325.94 93.1,326.22 94.49,326.07 95.87,326.16 97.26,326.29 98.64,326.57 100.03,326.48 101.41,326.17 102.8,326.5 104.1,326.39 105.4,326.34 106.7,326.8 108,326.79 109.3,326.82 110.6,326.86 111.9,326.83 113.2,326.98 114.5,326.92 115.8,326.62 117.1,327 118.4,326.81 119.7,327 121,326.91 122.3,326.9 123.65,326.82 125,326.74 126.35,326.74 127.7,326.63 129.05,326.47 130.4,326.85 131.75,326.8 133.1,326.87 134.45,326.65 135.8,326.5 137.75,325.58 139.7,324.6 141,325.05 142.3,324.98 143.6,325.5 144.97,325.66 146.33,325.57 147.7,325.46 149.07,325.52 150.43,325.76 151.8,325.65 153.17,325.83 154.53,325.96 155.9,325.89 157.27,325.78 158.63,326.04 160,326.1 161.57,326.24 163.15,326.54 164.73,326.82 166.3,327.3 167.83,326.89 169.37,326.38 170.9,326.3 172.47,326.16 174.03,326.11 175.6,325.6 177.17,325.7 178.73,326.06 180.3,326.1 181.87,326.76 183.43,326.63 185,327.3 186.34,327.2 187.69,327.71 189.03,327.85 190.37,327.84 191.71,327.67 193.06,327.93 194.4,328.1 195.79,328.31 197.18,328.31 198.57,328.25 199.96,327.88 201.34,328.26 202.73,327.96 204.12,328.15 205.51,327.79 206.9,328 208.5,328 208.5,304.7 208.5,356.3 211.7,356.3 211.7,285.4 212,328.2 213.31,328.51 214.62,328.31 215.94,328.41 217.25,328.13 218.56,328.4 219.88,328.4 221.19,328.43 222.5,328.4 223.8,328.13 225.1,328.17 226.4,327.75 227.7,327.54 229,327.28 230.3,327.3 231.69,327.28 233.07,326.81 234.46,326.75 235.84,326.53 237.23,326.74 238.61,326.56 240,326.4 241.32,326.5 242.65,326.27 243.98,326.59 245.3,326.7 246.86,326.29 248.42,325.82 249.98,325.44 251.54,325.72 253.1,325.1 254.64,324.65 256.18,324.54 257.72,324.3 259.26,324.28 260.8,324 262.2,323.6 263.6,323.68 265,323.47 266.4,323.6 267.8,322.95 269.2,323 270.6,322.95 272,323.08 273.4,322.66 274.8,322.5 276.18,322.61 277.56,322.85 278.93,322.74 280.31,322.71 281.69,323.11 283.07,323.48 284.44,323.5 285.82,323.33 287.2,323.6 298.1,323.6 299.43,323.6 300.76,323.58 302.09,323.11 303.41,323.2 304.74,322.94 306.07,322.76 307.4,322.8 308.93,322.37 310.47,322.02 312,321.9 313.32,321.48 314.63,320.96 315.95,320.84 317.27,320.32 318.58,320.39 319.9,319.9 321.2,319.63 322.5,318.94 323.8,319.06 325.1,318.38 326.4,318.22 327.7,317.9 329,318.4 330.3,318.73 331.6,319.3 333.6,316.9 335.1,317.77 336.6,318.9 338.05,318.36 339.5,317.9 341.5,320.9 342.95,322.43 344.4,324.4 345.9,325.02 347.4,325.2 348.7,324.7 350,324.86 351.3,324.4 353.2,316 353.8,316 353.8,355.5 357.4,355.5 357.6,324.8 363.1,324.8 365.05,324.13 367,323.8 368.32,323.52 369.63,323.4 370.95,323.02 372.27,322.91 373.58,322.88 374.9,322.8 376.21,322.81 377.52,323.11 378.83,323.23 380.14,322.7 381.46,323.04 382.77,322.84 384.08,323.29 385.39,323.05 386.7,323.2 388.14,323.56 389.58,323.47 391.02,323.34 392.46,323.38 393.9,323.8 395.38,323.8 396.85,324.32 398.32,324.04 399.8,324.4 401.1,323.97 402.4,323.49 403.7,323.06 405,322.91 406.3,322.14 407.6,321.9 409.01,322.1 410.43,322.14 411.84,322.38 413.26,322.2 414.67,322.51 416.09,322.29 417.5,322.4 418.9,322.5 420.3,322.59 421.7,322.78 423.1,322.87 424.5,322.45 425.9,322.53 427.3,322.8 428.93,322.69 430.57,322.72 432.2,322.4 434.2,326.8 435.83,326.49 437.47,326.01 439.1,325.8 446.9,325.8 448.31,325.93 449.73,325.39 451.14,325.12 452.56,324.96 453.97,324.8 455.39,325.08 456.8,324.8 458.27,324.81 459.75,325.43 461.23,325.77 462.7,325.8 464.02,326.45 465.35,326.69 466.68,326.8 468,327.2 473.4,327.2 474.88,327.75 476.35,328.35 477.82,328.75 479.3,329.1 480.77,328.5 482.25,328.31 483.73,327.44 485.2,327.2 486.68,326.99 488.15,327.3 489.62,326.88 491.1,326.8 492.58,326.76 494.05,327.17 495.52,327.07 497,327.2 498.43,326.44 499.87,325.98 501.3,325.8" fill="none" stroke="#ff1a1a" stroke-width="1.8" stroke-linejoin="round" stroke-linecap="butt"/>
<polyline points="64.6,313.3 65.9,313.61 67.2,313.68 68.5,313.71 69.8,313.28 71.1,313.64 72.4,313.6 73.7,313.7 83.4,313.7 84.96,314.02 86.52,314.08 88.08,314.42 89.64,314.87 91.2,315.2 92.76,315.23 94.32,315.57 95.88,315.51 97.44,315.75 99,316.2 100.39,316.47 101.77,316.44 103.16,316.64 104.54,316.91 105.93,316.83 107.31,316.79 108.7,317.2 110.15,316.97 111.6,316.45 113.05,316.09 114.5,315.6 126.1,315.6 127.4,315.59 128.7,315.73 130,315.28 131.3,315.44 132.6,315.13 133.9,315.18 135.2,315.15 136.5,314.87 137.8,314.9 139.36,314.33 140.92,314.24 142.48,314.07 144.04,313.67 145.6,313.3 147.5,311.4 149.4,306.5 150.4,309 152.03,308.77 153.67,308.69 155.3,308.4 156.87,308.11 158.43,308.01 160,308.1 161.57,307.79 163.15,307.89 164.73,307.32 166.3,307.3 167.63,307.23 168.96,307.37 170.29,307.49 171.61,307.79 172.94,308.13 174.27,308.44 175.6,308.4 176.94,308.21 178.29,308.15 179.63,308.02 180.97,307.94 182.31,308.14 183.66,307.92 185,307.8 186.34,307.77 187.69,307.79 189.03,308.31 190.37,308.38 191.71,308.57 193.06,308.33 194.4,308.6 195.95,308.83 197.5,309.25 199.05,309.26 200.6,309.4 202.18,309.59 203.75,309.05 205.32,309.46 206.9,309.1 208.45,308.98 210,309.35 211.55,309.26 213.1,309.7 214.44,309.93 215.79,309.9 217.13,310.11 218.47,310.05 219.81,310.18 221.16,309.98 222.5,310 223.84,310.36 225.19,310.29 226.53,310.12 227.87,310.57 229.21,310.28 230.56,310.24 231.9,310.5 233.25,310.26 234.6,310.51 235.95,310.37 237.3,310.83 238.65,310.85 240,310.6 241.32,310.55 242.65,310.61 243.98,310.99 245.3,311.1 246.85,310.8 248.4,310.93 249.95,310.99 251.5,310.7 259.3,310.7 260.6,310.24 261.9,310.02 263.2,309.99 264.5,309.4 265.8,309.02 267.1,308.8 268.64,308.68 270.18,308.27 271.72,307.96 273.26,307.47 274.8,307 276.1,306.53 277.4,306.28 278.7,305.95 280,305.42 281.3,304.76 282.6,304.5 284.14,304.06 285.68,303.81 287.22,303.7 288.76,303.25 290.3,302.9 291.6,302.75 292.9,302.73 294.2,302.12 295.5,302.25 296.8,301.88 298.1,301.8 299.66,301.38 301.22,301.08 302.78,300.27 304.34,300.23 305.9,299.5 307.43,298.75 308.97,298.54 310.5,298 312,297.3 313.48,296.35 314.95,295.19 316.42,294.41 317.9,293.4 319.2,292.38 320.5,291.37 321.8,290.4 323.13,289.43 324.47,287.9 325.8,287.1 327.75,287.43 329.7,287.9 331,288.57 332.3,288.69 333.6,289.4 335.08,290.62 336.55,291.22 338.02,292.51 339.5,293.4 343.4,299.3 347.4,306.1 349.3,310.1 350.3,309.1 351.3,285.5 352.3,283.5 353.3,288.5 353.8,355.2 357.2,355.2 357.6,285.5 358.6,268.8 359.5,272.7 361.1,266.8 362.1,263.9 363.1,269.8 364.1,266.8 365,273.7 366,285.5 369,293.4 370.9,294.3 372.4,292.15 373.9,290.4 374.9,286.5 375.9,292.4 376.8,289.4 378.8,301.2 380.8,309.1 384.7,315 388.6,320.9 390.9,323.2 392.57,323.57 394.23,323.95 395.9,324.4 397.2,323.82 398.5,323.85 399.8,323.4 401.75,322.64 403.7,321.9 405,321.68 406.3,321.26 407.6,320.9 408.93,320.6 410.27,320.25 411.6,319.9 413.55,319.08 415.5,318.5 417.45,318.24 419.4,317.5 420.73,317.59 422.07,318.39 423.4,318.5 424.7,318.18 426,317.43 427.3,316.9 429.25,316.62 431.2,316 432.7,317.05 434.2,317.9 435.5,317.2 436.8,316.24 438.1,315.6 440.05,316.64 442,317.9 443.33,317.34 444.67,316.85 446,316.5 447.45,316.98 448.9,316.9 450.9,310.1 452.35,309.7 453.8,309.5 455.3,310.18 456.8,311 458.25,310.5 459.7,310.1 461,311.32 462.3,312.15 463.6,313.2 465.55,312.63 467.5,312 469.45,311.2 471.4,310.7 472.73,310.67 474.07,310.65 475.4,311 476.7,310.06 478,309.32 479.3,308.7 481.25,308.31 483.2,307.5 484.8,308.1 485.6,297.3 487.2,286.5 488.1,296.3 490.1,293.4 491.5,294.3 493,291.4 494.6,286.5 495.8,275.7 496.2,275.7 496,355.2 498.9,355.2 499.5,318.9 500.5,315 501.3,316.9" fill="none" stroke="#1a1aff" stroke-width="1.8" stroke-linejoin="round" stroke-linecap="butt"/>
<polyline points="64.6,435.4 102.8,435.4 104.14,435.29 105.48,435.24 106.82,435.41 108.17,435.31 109.51,435.29 110.85,435.47 112.19,435.75 113.53,435.72 114.87,435.72 116.21,435.47 117.56,435.65 118.9,435.54 120.24,435.51 121.58,435.49 122.92,435.57 124.26,435.94 125.6,435.92 126.94,435.93 128.29,435.94 129.63,435.66 130.97,435.74 132.31,435.92 133.65,435.99 134.99,436.07 136.33,436.11 137.68,435.73 139.02,436.01 140.36,436.07 141.7,436 143.01,436.03 144.32,435.89 145.64,436.06 146.95,435.89 148.26,436.33 149.57,436.32 150.88,436.19 152.19,436.09 153.51,436.42 154.82,436.27 156.13,436.45 157.44,436.46 158.75,436.31 160.06,436.29 161.38,436.4 162.69,436.34 164,436.4 165.42,436.19 166.84,436.23 168.25,436.45 169.67,436.03 171.09,435.99 172.51,436.24 173.93,436.04 175.35,436.13 176.76,436.06 178.18,435.96 179.6,436 180.91,436.28 182.23,435.9 183.54,436.04 184.85,435.96 186.17,436.2 187.48,436.05 188.79,436.11 190.11,436.34 191.42,436.15 192.73,436.3 194.05,436.5 195.36,436.12 196.67,436.13 197.99,436.24 199.3,436.4 200.61,436.64 201.91,436.67 203.22,436.59 204.53,436.74 205.83,436.77 207.14,437.02 208.45,436.92 209.75,437.35 211.06,437.56 212.37,437.69 213.67,437.69 214.98,437.91 216.29,437.55 217.59,437.79 218.9,438 220.21,438.41 221.52,438.49 222.83,438.49 224.14,438.93 225.46,438.95 226.77,439.23 228.08,439.14 229.39,439.27 230.7,439.6 232.02,439.92 233.35,440.12 234.68,440.59 236,441 237.47,441.46 238.95,441.37 240.43,441.43 241.9,441.9 243.53,441.04 245.17,440.47 246.8,440 248.43,440.64 250.07,440.93 251.7,441.5 253.18,442.1 254.65,442.7 256.12,443.84 257.6,444.3 258.92,444.46 260.23,444.55 261.55,444.68 262.87,444.88 264.18,445.13 265.5,445.5 285.1,445.5 286.41,445.64 287.73,445.43 289.04,445.43 290.35,445.71 291.67,445.64 292.98,446.07 294.29,445.68 295.61,445.94 296.92,446.12 298.23,445.99 299.55,446.33 300.86,446.13 302.17,446.06 303.49,446.2 304.8,446.3 306.2,446.21 307.6,446.54 309,446.59 310.4,447.04 311.8,447.15 313.2,447.12 314.6,447.03 316,447.4 317.31,447.29 318.62,447.3 319.92,447.3 321.23,447.33 322.54,447.66 323.85,447.31 325.15,447.28 326.46,447.74 327.77,447.57 329.08,447.8 330.38,447.52 331.69,447.79 333,447.68 334.31,447.76 335.62,447.75 336.92,447.64 338.23,447.46 339.54,447.53 340.85,447.88 342.15,447.91 343.46,447.94 344.77,447.66 346.08,447.83 347.38,447.92 348.69,447.86 350,447.8 351.31,447.98 352.62,447.85 353.94,447.93 355.25,447.97 356.56,447.78 357.88,448.12 359.19,448.16 360.5,447.74 361.81,448.2 363.12,448.22 364.44,448.09 365.75,447.8 367.06,448.24 368.38,447.88 369.69,448.32 371,448.18 372.31,447.9 373.62,447.97 374.94,448.22 376.25,448.21 377.56,448.32 378.88,448.43 380.19,448.09 381.5,448 382.81,448.48 384.12,448.04 385.44,448.49 386.75,448.13 388.06,448.5 389.38,448.5 390.69,448.57 392,448.4 393.3,448.38 394.6,448.49 395.9,448.1 397.2,448.29 398.5,448.07 399.8,448.3 401.1,448.19 402.4,447.99 403.7,447.96 405,447.66 406.3,447.62 407.6,447.8 408.91,448.05 410.23,448.19 411.54,448.58 412.85,448.65 414.17,448.62 415.48,448.93 416.79,449.33 418.11,449.41 419.42,449.36 420.73,449.97 422.05,450.16 423.36,449.99 424.67,450.42 425.99,450.54 427.3,450.8 428.61,450.99 429.92,450.81 431.23,450.82 432.53,450.99 433.84,451.28 435.15,450.9 436.46,450.96 437.77,451.26 439.07,451.44 440.38,451.31 441.69,451.32 443,451.4 444.95,452.73 446.9,453.7 448.22,454.99 449.53,455.78 450.85,457.34 452.17,458.15 453.48,459.35 454.8,460.6 456.12,461.92 457.43,462.86 458.75,464.2 460.07,465.03 461.38,466.54 462.7,467.5 464.15,468.8 465.6,470.26 467.05,471.9 468.5,473.29 469.95,474.85 471.4,476.3 472.72,477 474.03,477.41 475.35,477.55 476.67,478.21 477.98,478.82 479.3,479.3 480.7,479.42 482.1,479.66 483.5,479.68 484.9,479.6 486.3,479.82 487.7,480.25 489.1,480.2 497,480.2" fill="none" stroke="#d4d4d4" stroke-width="1.45" stroke-linejoin="round" stroke-linecap="butt"/>
<polyline points="64.6,443.7 66.04,443.54 67.48,443.98 68.92,444.03 70.36,444.28 71.8,444.1 73.1,443.66 74.4,443.35 75.7,443.2 77.6,442.64 79.5,441.8 80.8,442.53 82.1,442.95 83.4,443.7 85.35,444.01 87.3,444.1 88.75,443.81 90.2,443.82 91.65,443.2 93.1,443.2 94.73,443.2 96.37,443.77 98,443.7 99.6,443.45 101.2,443.22 102.8,443.2 104.36,443.26 105.92,443.04 107.48,442.63 109.04,442.75 110.6,442.6 112.5,447 122.3,447 123.69,447.03 125.07,446.66 126.46,446.88 127.84,446.49 129.23,446.55 130.61,446.32 132,446.5 133.39,446.48 134.77,447.1 136.16,446.91 137.54,447.42 138.93,447.25 140.31,447.51 141.7,447.6 143.09,447.94 144.47,447.94 145.86,447.71 147.24,448.11 148.63,448.25 150.01,448.09 151.4,448.4 152.8,448.22 154.2,448.76 155.6,448.61 157,448.48 158.4,448.7 159.8,448.63 161.2,449.05 162.6,448.93 164,449 165.45,448.71 166.9,449.09 168.35,448.6 169.8,448.8 171.2,448.53 172.6,448.23 174,448.52 175.4,448 176.8,448.1 178.2,447.7 179.6,447.8 181.01,447.85 182.43,448.03 183.84,447.99 185.26,448 186.67,448.08 188.09,448.11 189.5,448.2 190.9,448.29 192.3,448.01 193.7,448.27 195.1,448.16 196.5,448.56 197.9,448.63 199.3,448.4 200.82,448.21 202.33,448.32 203.85,448.72 205.37,448.71 206.88,448.44 208.4,448.8 208.4,401.2 208.4,480.2 212,480.2 212,387.6 212.3,448.2 213.69,448.23 215.08,448.29 216.47,447.89 217.86,447.75 219.24,447.8 220.63,447.93 222.02,447.44 223.41,447.37 224.8,447.4 226.18,447.17 227.56,447.39 228.95,447.25 230.33,447.07 231.71,447.11 233.09,446.85 234.47,446.97 235.85,447.33 237.24,447.04 238.62,446.82 240,446.9 241.9,446.9 243.9,445.9 245.8,447.8 247.3,448.76 248.8,449.2 250.19,449.08 251.58,448.98 252.98,448.82 254.37,448.85 255.76,448.85 257.15,448.84 258.54,449.19 259.93,448.79 261.32,448.75 262.72,448.93 264.11,449.08 265.5,448.8 266.81,448.65 268.11,448.9 269.42,448.64 270.73,448.73 272.03,448.72 273.34,448.91 274.65,448.77 275.95,448.59 277.26,448.76 278.57,448.45 279.87,448.44 281.18,448.76 282.49,448.48 283.79,448.59 285.1,448.4 304.8,448.4 306.2,448.39 307.6,448.85 309,448.77 310.4,448.65 311.8,449.16 313.2,448.98 314.6,449 316,449.2 317.3,449.02 318.6,448.9 319.9,448.92 321.2,449.18 322.5,448.82 323.8,448.86 325.1,448.94 326.4,448.96 327.7,448.83 329,449.04 330.3,448.69 331.6,448.8 332.91,448.69 334.23,448.7 335.54,448.5 336.85,448.53 338.17,448.45 339.48,448.78 340.79,448.4 342.11,448.69 343.42,448.39 344.73,448.62 346.05,448.6 347.36,448.39 348.67,448.71 349.99,448.52 351.3,448.4 353.7,448.4 353.7,480.2 357.6,480.2 358.2,448.4 365,448.4 366.33,448.9 367.67,449.06 369,449.8 370.35,449.72 371.71,449.61 373.06,449.71 374.41,449.97 375.76,449.9 377.12,449.4 378.47,449.74 379.82,449.87 381.18,449.61 382.53,449.32 383.88,449.76 385.24,449.47 386.59,449.78 387.94,449.7 389.29,449.64 390.65,449.68 392,449.4 393.45,448.99 394.9,449.28 396.35,448.83 397.8,448.8 399.11,448.47 400.42,448.51 401.73,448.52 403.04,448.06 404.36,448.21 405.67,448.3 406.98,448.02 408.29,447.93 409.6,447.8 411.55,448.68 413.5,449.8 414.82,450.32 416.13,450.12 417.45,450.61 418.77,450.82 420.08,450.67 421.4,451.2 422.8,451.44 424.2,450.93 425.6,451.32 427,451.23 428.4,451.15 429.8,451.07 431.2,450.8 441,450.8 442.33,451.07 443.67,451.43 445,451.8 446.4,451.48 447.8,451.6 449.2,450.83 450.6,450.67 452,450.93 453.4,450.61 454.8,450.2 456.75,451.12 458.7,451.8 460.03,451.94 461.36,451.53 462.69,451.57 464.01,451.19 465.34,451.33 466.67,450.68 468,450.8 469.41,450.84 470.82,451 472.24,451.2 473.65,451.05 475.06,451.28 476.48,451.53 477.89,451.28 479.3,451.4 480.62,450.95 481.93,450.58 483.25,450.82 484.57,450.32 485.88,450 487.2,449.8 488.63,449.28 490.07,448.51 491.5,448.2 492.88,448.18 494.25,448.34 495.62,448.5 497,448.8 498.43,448.55 499.87,447.71 501.3,447.4" fill="none" stroke="#ff1a1a" stroke-width="1.8" stroke-linejoin="round" stroke-linecap="butt"/>
<polyline points="64.6,440.2 75.7,440.2 77.24,440.27 78.78,440.28 80.32,439.83 81.86,440.26 83.4,439.9 84.85,439.12 86.3,438.7 87.6,438.1 88.9,437.3 91.2,438.3 92.65,438.18 94.1,438.7 95.55,438.47 97,438.92 98.45,439.06 99.9,439.21 101.35,439.14 102.8,439.3 104.1,439.56 105.4,439.67 106.7,439.19 108,439.47 109.3,439.77 110.6,439.68 111.9,439.55 113.2,439.5 114.5,439.93 115.8,439.45 117.1,439.9 118.4,439.99 119.7,439.61 121,439.76 122.3,439.9 123.69,439.83 125.07,440.03 126.46,439.97 127.84,440.34 129.23,440.4 130.61,440.09 132,440.49 133.39,440.04 134.77,440.11 136.16,440.5 137.54,440.63 138.93,440.69 140.31,440.85 141.7,440.6 143.15,440.97 144.6,440.76 146.05,441.2 147.5,441.2 148.95,441.2 150.4,440.46 151.85,440.45 153.3,440.2 154.64,440.04 155.98,440.09 157.31,440.34 158.65,440.5 159.99,440.73 161.32,440.28 162.66,440.55 164,440.6 169.8,440.6 171.12,440.8 172.43,440.56 173.75,440.32 175.07,440.05 176.38,440.18 177.7,440 179.6,435.1 181.6,436 182.92,435.64 184.23,435.65 185.55,435.44 186.87,435.07 188.18,435.09 189.5,434.7 190.9,434.83 192.3,435.05 193.7,435.46 195.1,435.29 196.5,435.44 197.9,435.86 199.3,436 200.61,436.01 201.92,436.31 203.23,435.98 204.54,436.1 205.86,435.96 207.17,436.24 208.48,436.2 209.79,436.32 211.1,436.4 212.47,436.58 213.84,436.16 215.21,436.75 216.58,436.61 217.95,436.69 219.32,436.54 220.69,436.59 222.06,436.51 223.43,436.52 224.8,436.6 226.18,436.38 227.56,436.37 228.95,436.31 230.33,436.28 231.71,436.57 233.09,436.45 234.47,436.3 235.85,435.87 237.24,435.97 238.62,436.08 240,436 241.3,436.07 242.6,435.85 243.9,435.93 245.2,436.04 246.5,435.61 247.8,435.7 249.11,435.5 250.42,435.59 251.73,435.19 253.04,435.3 254.36,434.97 255.67,434.61 256.98,434.74 258.29,434.37 259.6,434.5 260.91,434.55 262.22,434.47 263.53,434.17 264.83,434.27 266.14,433.74 267.45,433.77 268.76,433.49 270.07,433.3 271.38,433.64 272.68,433.06 273.99,433.48 275.3,433.1 276.67,432.99 278.04,432.94 279.41,432.41 280.78,432.78 282.15,432.58 283.52,432.02 284.89,431.93 286.26,431.76 287.63,431.84 289,431.7 290.31,431.31 291.62,431.61 292.93,431.3 294.24,431.29 295.56,430.89 296.87,430.99 298.18,430.74 299.49,430.72 300.8,430.5 302.43,430.01 304.07,429.93 305.7,429.2 307.2,427.41 308.7,425.2 310.7,424.7 312.15,426.15 313.6,427.2 315.9,427.2 317.38,427.25 318.85,427.31 320.32,427.44 321.8,427.8 323.13,426.91 324.47,426.75 325.8,425.8 328.7,425.8 330.7,414.4 332.6,416.4 334.1,415.77 335.6,415.4 337.5,417.4 338.83,417.29 340.17,416.57 341.5,416.4 342.98,416.22 344.45,415.75 345.92,415.53 347.4,415.4 349.03,414.92 350.67,414.2 352.3,413.5 353.7,415.4 353.7,480.2 357.6,480.2 358.2,414.4 359.5,416.4 361.1,423.3 362.58,423.32 364.05,422.64 365.52,422.41 367,422.3 368.95,422.54 370.9,423.3 372.23,422.8 373.57,422.92 374.9,422.3 376.2,422.67 377.5,422.95 378.8,423.3 380.25,421.2 381.7,419.3 383.37,419.79 385.03,420.08 386.7,420.3 388,419.3 389.45,418.64 390.9,418.4 392.9,416.4 394.4,416.63 395.9,417.4 397.2,416.54 398.5,416.26 399.8,415.4 401.75,415.04 403.7,414.4 405.3,410.5 406.7,432.1 408.06,432.02 409.42,432.1 410.78,432.22 412.14,432.53 413.5,432.5 414.88,432.51 416.26,432.06 417.64,431.98 419.02,431.78 420.4,432.07 421.78,431.69 423.16,431.78 424.54,431.23 425.92,431.32 427.3,431.1 428.7,430.96 430.1,430.99 431.5,430.46 432.9,430.19 434.3,430.36 435.7,430.26 437.1,429.8 438.5,429.78 439.9,429.64 441.3,429.47 442.7,429.65 444.1,429.91 445.5,429.54 446.9,429.6 448.31,429.51 449.73,429.52 451.14,429.27 452.56,429.14 453.97,429.33 455.39,429.54 456.8,429.2 458.27,429.07 459.75,428.38 461.23,428.32 462.7,427.8 464.6,426.2 466.05,424.45 467.5,422.3 469,420.85 470.5,419.3 471.95,420.22 473.4,421.3 474.7,421.98 476,423.16 477.3,423.9 478.8,424.21 480.3,424.3 482.2,421.3 484.2,419 486.2,421.3 488.7,424.3 490.1,431.1 491.5,437 494,441.9 495.4,438 496,431.1 496,480.2 498.5,480.2 498.9,447.8 499.9,449.8 501.3,448.8" fill="none" stroke="#1a1aff" stroke-width="1.8" stroke-linejoin="round" stroke-linecap="butt"/>
<polyline points="352,106 501.2,106" fill="none" stroke="#6a22b8" stroke-width="1.9" stroke-linejoin="round" stroke-linecap="butt"/>
<polyline points="353.6,206 353.6,230.8 357.8,230.8 357.8,206.5" fill="none" stroke="#6a22b8" stroke-width="1.9" stroke-linejoin="round" stroke-linecap="butt"/>
<polyline points="353.8,320 353.8,355.3 357.3,355.3 357.5,325" fill="none" stroke="#6a22b8" stroke-width="1.9" stroke-linejoin="round" stroke-linecap="butt"/>
<polyline points="353.7,448.4 353.7,480.2 357.6,480.2 357.8,448.4" fill="none" stroke="#6a22b8" stroke-width="1.9" stroke-linejoin="round" stroke-linecap="butt"/>
<text transform="translate(72.4,49.8) scale(0.765,1)" font-size="22.0" text-anchor="start" font-weight="bold" fill="#000">0.058 s</text>
<text transform="translate(72.4,173.9) scale(0.765,1)" font-size="22.0" text-anchor="start" font-weight="bold" fill="#000">0.1 s</text>
<text transform="translate(71.6,299.8) scale(0.765,1)" font-size="22.0" text-anchor="start" font-weight="bold" fill="#000">0.15 s</text>
<text transform="translate(71.6,423.8) scale(0.765,1)" font-size="22.0" text-anchor="start" font-weight="bold" fill="#000">0.19 s</text>
<rect x="297" y="11.6" width="160.5" height="70.2" fill="#fff" stroke="#222" stroke-width="1.3"/>
<line x1="300.8" y1="22.6" x2="329.2" y2="22.6" stroke="#d0d0d0" stroke-width="1.8"/>
<text transform="translate(332.6,28.1) scale(0.84,1)" font-size="15.2" text-anchor="start" font-weight="normal" fill="#222" stroke="#222" stroke-width="0.35">Empty</text>
<line x1="300.8" y1="46.7" x2="329.2" y2="46.7" stroke="#ff1a1a" stroke-width="1.8"/>
<text transform="translate(332.6,52.2) scale(0.84,1)" font-size="15.2" text-anchor="start" font-weight="normal" fill="#222" stroke="#222" stroke-width="0.35">10m, 50%; 20m, 50%</text>
<line x1="300.8" y1="70.4" x2="329.2" y2="70.4" stroke="#1a1aff" stroke-width="1.8"/>
<text transform="translate(332.6,75.9) scale(0.84,1)" font-size="15.2" text-anchor="start" font-weight="normal" fill="#222" stroke="#222" stroke-width="0.35">20m, 50%; 30m, 50%</text>
</svg>
</body></html>
